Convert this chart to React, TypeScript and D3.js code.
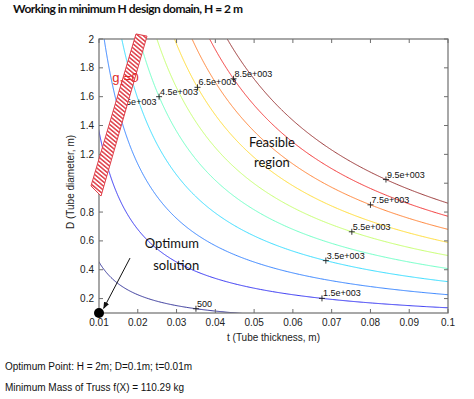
import { contours, geoPath, geoTransform, range, scaleLinear } from "d3";

// contour levels of the truss mass f(t, D), kg
const levels = [500, 1500, 2500, 3500, 4500, 5500, 6500, 7500, 8500, 9500];
const labelTexts = [
  "500", "1.5e+003", "2.5e+003", "3.5e+003", "4.5e+003",
  "5.5e+003", "6.5e+003", "7.5e+003", "8.5e+003", "9.5e+003"
];
// thickness where each clabel "+" sits on its curve
const labelT = [0.035, 0.0675, 0.0148, 0.0685, 0.0255, 0.0752, 0.0354, 0.08, 0.0447, 0.084];

// mass per (t * D): f(0.01, 0.1) = 110.29 kg
const massCoeff = 110290;

const xTicks = [0.01, 0.02, 0.03, 0.04, 0.05, 0.06, 0.07, 0.08, 0.09, 0.1];
const yTicks = [0.2, 0.4, 0.6, 0.8, 1, 1.2, 1.4, 1.6, 1.8, 2];
// the "1" label sits under the hatched band in the original
const yTickLabels = ["0.2", "0.4", "0.6", "0.8", "", "1.2", "1.4", "1.6", "1.8", "2"];

// g1 = 0 constraint band corners (t, D)
const bandT = [0.00794, 0.01954, 0.02238, 0.01052];
const bandD = [0.981, 2.035, 2.02, 0.911];

const optimum = { t: 0.01, D: 0.1 };

const width = 474;
const height = 399;
const plot = { left: 99, right: 448, top: 39, bottom: 313 };

const x = scaleLinear().domain([0.01, 0.1]).range([plot.left, plot.right]);
const y = scaleLinear().domain([0.1, 2]).range([plot.bottom, plot.top]);

function jet(v: number): string {
  const c = (d: number) => Math.max(0, Math.min(1, 1.5 - Math.abs(d)));
  const mix = (a: number) => Math.round((a * 0.8 + 0.2) * 255);
  return `rgb(${mix(c(4 * v - 3))},${mix(c(4 * v - 2))},${mix(c(4 * v - 1))})`;
}

function buildContours() {
  const nx = 420;
  const ny = 420;
  const t0 = 0.005;
  const t1 = 0.105;
  const d0 = 0.02;
  const d1 = 2.1;
  const values = new Array(nx * ny);
  for (let j = 0; j < ny; j++) {
    const D = d0 + ((d1 - d0) * j) / (ny - 1);
    for (let i = 0; i < nx; i++) {
      const t = t0 + ((t1 - t0) * i) / (nx - 1);
      values[j * nx + i] = massCoeff * t * D;
    }
  }
  const gx = scaleLinear().domain([0.5, nx - 0.5]).range([t0, t1]);
  const gy = scaleLinear().domain([0.5, ny - 0.5]).range([d0, d1]);
  const path = geoPath(
    geoTransform({
      point(px: number, py: number) {
        this.stream.point(x(gx(px)), y(gy(py)));
      }
    })
  );
  return contours().size([nx, ny]).thresholds(levels)(values).map((c, i) => ({
    d: path(c) ?? "",
    color: jet(i / (levels.length - 1))
  }));
}

const font = "'Liberation Sans', Arial, sans-serif";
const calibriLike = "Lato, 'Open Sans', sans-serif";

export default function App() {
  const paths = buildContours();
  const band = range(bandT.length)
    .map((i) => `${x(bandT[i])},${y(bandD[i])}`)
    .join(" ");
  const labels = levels.map((lv, i) => ({
    px: x(labelT[i]),
    py: y(lv / (massCoeff * labelT[i])),
    text: labelTexts[i]
  }));
  const arrowStart = [x(0.018), y(0.481)];
  const arrowEnd = [x(0.0112), y(0.132)];

  return (
    <svg
      width={width}
      height={height}
      style={{ position: "absolute", left: 0, top: 0, display: "block", background: "#fff" }}
    >
      <defs>
        <clipPath id="plot-clip">
          <rect x={plot.left} y={plot.top} width={plot.right - plot.left} height={plot.bottom - plot.top} />
        </clipPath>
        <pattern id="hatch" width="3.2" height="3.2" patternUnits="userSpaceOnUse" patternTransform="rotate(-50)">
          <rect width="3.2" height="3.2" fill="#fff" />
          <rect width="1.5" height="3.2" fill="#e0404a" />
        </pattern>
        <marker id="arrow" viewBox="0 0 10 10" refX="9" refY="5" markerWidth="7" markerHeight="7" orient="auto">
          <path d="M0,1 L10,5 L0,9 z" fill="#111" />
        </marker>
      </defs>

      <text x={13} y={13} fontFamily={calibriLike} fontWeight="bold" fontSize={12} fill="#111" textLength={230}>
        Working in minimum H design domain, H = 2 m
      </text>

      <g clipPath="url(#plot-clip)">
        {paths.map((p, i) => (
          <path key={i} d={p.d} fill="none" stroke={p.color} strokeWidth={1} />
        ))}
      </g>

      <g fontFamily={font} fontSize={9} fill="#111">
        {labels.map((l, i) => (
          <g key={i}>
            <path d={`M${l.px - 3},${l.py}H${l.px + 3}M${l.px},${l.py - 3}V${l.py + 3}`} stroke="#222" strokeWidth={0.9} />
            <text x={l.px + 1} y={l.py - 2}>{l.text}</text>
          </g>
        ))}
      </g>

      {/* frame and ticks */}
      <rect x={plot.left} y={plot.top} width={plot.right - plot.left} height={plot.bottom - plot.top} fill="none" stroke="#6e6e6e" strokeWidth={1.2} />
      <g stroke="#6e6e6e" strokeWidth={1}>
        {xTicks.map((t) => (
          <g key={t}>
            <line x1={x(t)} x2={x(t)} y1={plot.bottom} y2={plot.bottom - 4} />
            <line x1={x(t)} x2={x(t)} y1={plot.top} y2={plot.top + 4} />
          </g>
        ))}
        {yTicks.map((d) => (
          <g key={d}>
            <line x1={plot.left} x2={plot.left + 4} y1={y(d)} y2={y(d)} />
            <line x1={plot.right} x2={plot.right - 4} y1={y(d)} y2={y(d)} />
          </g>
        ))}
      </g>
      <g fontFamily={font} fontSize={10} fill="#222">
        {xTicks.map((t) => (
          <text key={t} x={x(t)} y={plot.bottom + 13} textAnchor="middle">{`${t}`}</text>
        ))}
        {yTicks.map((d, i) => (
          <text key={d} x={plot.left - 5} y={y(d) + 3.5} textAnchor="end">{yTickLabels[i]}</text>
        ))}
        <text x={(plot.left + plot.right) / 2} y={plot.bottom + 28} textAnchor="middle">t (Tube thickness, m)</text>
        <text transform={`translate(${plot.left - 25},${(plot.top + plot.bottom) / 2 + 6}) rotate(-90)`} textAnchor="middle">
          D (Tube diameter, m)
        </text>
      </g>

      {/* g1 = 0 constraint */}
      <polygon points={band} fill="url(#hatch)" stroke="#e0404a" strokeWidth={1} />
      <text x={x(0.0134)} y={y(1.7)} fontFamily={font} fontSize={13} fill="#e02828">
        g<tspan fontSize={8} dy={3}>1</tspan><tspan dy={-3}>=0</tspan>
      </text>

      <g fontFamily={calibriLike} fontSize={13} fill="#111" textAnchor="middle">
        <text x={x(0.0546)} y={y(1.279) + 4}>Feasible</text>
        <text x={x(0.0546)} y={y(1.14) + 4}>region</text>
        <text x={x(0.0288)} y={y(0.578) + 4}>Optimum</text>
        <text x={x(0.0299)} y={y(0.426) + 4}>solution</text>
      </g>

      <line x1={arrowStart[0]} y1={arrowStart[1]} x2={arrowEnd[0]} y2={arrowEnd[1]} stroke="#111" strokeWidth={1} markerEnd="url(#arrow)" />
      <circle cx={x(optimum.t)} cy={y(optimum.D)} r={5} fill="#000" />

      <g fontFamily={font} fontSize={10} fill="#111">
        <text x={5} y={370}>Optimum Point: H = 2m; D=0.1m; t=0.01m</text>
        <text x={5} y={391}>Minimum Mass of Truss f(X) = 110.29 kg</text>
      </g>
    </svg>
  );
}
